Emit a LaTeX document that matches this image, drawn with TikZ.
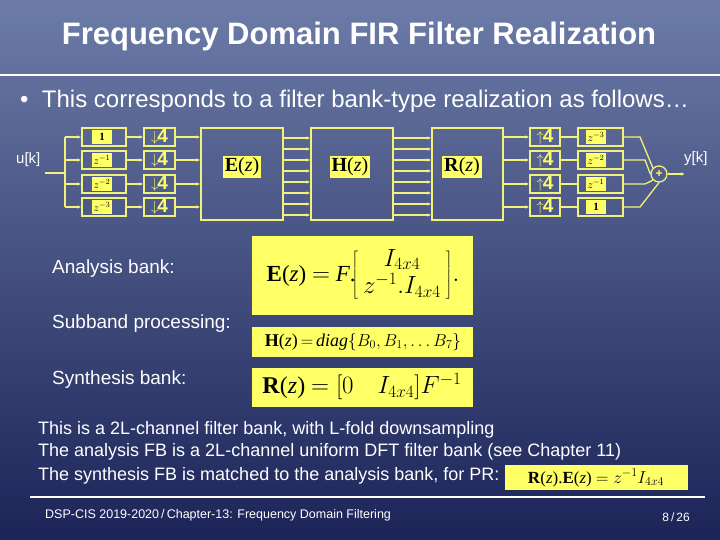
\documentclass[tikz,border=0pt]{standalone}
\usepackage{fontspec}
\setmainfont{Liberation Sans}
\newfontfamily\tms{Liberation Serif}
\usetikzlibrary{arrows.meta}
\definecolor{ylw}{HTML}{FFFF66}
\definecolor{lne}{HTML}{F2F27A}
\definecolor{bgA}{HTML}{5C6D9E}
\definecolor{bgB}{HTML}{1C2458}
\newcommand{\bE}{\textbf{\tms E}}
\newcommand{\bH}{\textbf{\tms H}}
\newcommand{\bR}{\textbf{\tms R}}
\begin{document}
\begin{tikzpicture}[x=1pt,y=-1pt,
  wire/.style={draw=lne,line width=1.3pt},
  arr/.style={wire,-{Latex[length=4pt,width=3.5pt]}},
  bx/.style={draw=lne,line width=1.3pt,fill=none},
  ylab/.style={fill=ylw,text=black,inner sep=2pt},
  rate/.style={bx,minimum height=18pt,inner sep=0pt,text=ylw,font=\fontsize{19}{19}\selectfont\bfseries},
  eqbox/.style={fill=ylw,text=black,inner sep=0pt,anchor=north west},
  wt/.style={text=white,anchor=west,inner sep=0pt}]
\shade[left color=bgA,right color=bgB,shading angle=0] (0,0) rectangle (720,540);
\shade[top color=bgA!80!white,bottom color=bgB,opacity=0.5] (0,0) rectangle (720,540);
\useasboundingbox (0,0) rectangle (720,540);
\node[text=white,font=\fontsize{31}{34}\selectfont\bfseries] (title) at (359,36) {Frequency Domain FIR Filter Realization};
\draw[white,line width=2pt] (0,75) -- (720,75);
\node[wt,font=\fontsize{24}{27}\selectfont] (bul) at (20,101) {\textbullet\ \ This corresponds to a filter bank-type realization as follows\dots};
% input side
\node[wt,font=\fontsize{15}{18}\selectfont] (uk) at (16,160) {u[k]};
\coordinate (in0) at (45,173);
\coordinate (bus) at (65,173);
\draw[wire] (in0) -- (bus);
\draw[wire] (65,137) -- (65,207);
\foreach \i/\y/\t in {1/137/{\textbf{1}},2/160/{$z^{-1}$},3/184/{$z^{-2}$},4/207/{$z^{-3}$}}{
  \node[bx,minimum width=44pt,minimum height=18pt] (d\i) at (104,\y) {};
  \node[ylab,font=\fontsize{11}{11}\selectfont\tms,minimum width=20pt,minimum height=14pt] (dl\i) at (102,\y) {\t};
  \coordinate (b\i) at (65,\y);
  \draw[arr] (b\i) -- (d\i.west);
  \node[rate,minimum width=31pt] (dn\i) at (159.5,\y) {\raisebox{1pt}{\fontsize{15}{15}\selectfont$\downarrow$}\kern-1pt 4};
  \draw[arr] (d\i.east) -- (dn\i.west);
}
\node[bx,minimum width=82pt,minimum height=92pt] (E) at (242,174) {};
\node[ylab,font=\fontsize{20}{20}\selectfont\tms] (El) at (242,167) {\bE(\textit{z})};
\node[bx,minimum width=82pt,minimum height=92pt] (H) at (352,174) {};
\node[ylab,font=\fontsize{20}{20}\selectfont\tms] (Hl) at (350,167) {\bH(\textit{z})};
\node[bx,minimum width=71pt,minimum height=92pt] (R) at (467.5,174) {};
\node[ylab,font=\fontsize{20}{20}\selectfont\tms] (Rl) at (462,167) {\bR(\textit{z})};
\foreach \i/\y in {1/137,2/160,3/184,4/207}{
  \draw[arr] (dn\i.east) -- (E.west |- 0,\y);
}
\foreach \y in {138,149,160,171,182,193,204,215}{
  \draw[arr] (E.east |- 0,\y) -- (H.west |- 0,\y);
  \draw[arr] (H.east |- 0,\y) -- (R.west |- 0,\y);
}
\node[draw=lne,line width=1.3pt,circle,minimum size=16pt,inner sep=0pt,text=ylw,font=\bfseries\large] (sum) at (659,174) {+};
\foreach \i/\y/\t in {1/137/{$z^{-3}$},2/160/{$z^{-2}$},3/184/{$z^{-1}$},4/207/{\textbf{1}}}{
  \node[rate,minimum width=30pt] (up\i) at (545,\y) {\raisebox{1pt}{\fontsize{15}{15}\selectfont$\uparrow$}\kern-1pt 4};
  \draw[arr] (R.east |- 0,\y) -- (up\i.west);
  \node[bx,minimum width=45pt,minimum height=18pt] (s\i) at (600.5,\y) {};
  \node[ylab,font=\fontsize{11}{11}\selectfont\tms,minimum width=20pt,minimum height=14pt] (sl\i) at (596,\y) {\t};
  \draw[wire] (up\i.east) -- (s\i.west);
}
\draw[wire] (s1.east) -- (640,137) -- (sum.north west);
\draw[wire] (s2.east) -- (645,160) -- (sum.west);
\draw[wire] (s3.east) -- (645,184) -- (sum.south west);
\draw[wire] (s4.east) -- (640,207) -- (sum.south);
\coordinate (out) at (685,174);
\draw[arr] (sum.east) -- (out);
\node[wt,font=\fontsize{15}{18}\selectfont] (yk) at (684,159) {y[k]};
% equations
\node[wt,font=\fontsize{19}{22}\selectfont] (an) at (52,269) {Analysis bank:};
\node[wt,font=\fontsize{19}{22}\selectfont] (sp) at (52,324) {Subband processing:};
\node[wt,font=\fontsize{19}{22}\selectfont] (sy) at (52,380) {Synthesis bank:};
\node[eqbox,minimum width=221pt,minimum height=79pt] (eq1) at (252,236) {};
\node[text=black,font=\fontsize{23}{25}\selectfont\tms] (eq1t) at (363,275) {\bE(\textit{z}) $=$ \textit{F}.$\!\left[\begin{array}{c} I_{4x4}\\ z^{-1}.I_{4x4}\end{array}\right]\!.$};
\node[eqbox,minimum width=221pt,minimum height=30pt] (eq2) at (252,327) {};
\node[text=black,font=\fontsize{18}{20}\selectfont\tms] (eq2t) at (363,342) {\bH(\textit{z})$\,=\,$\textit{diag}$\{B_0,B_1,\ldots B_7\}$};
\node[eqbox,minimum width=221pt,minimum height=39pt] (eq3) at (252,368) {};
\node[text=black,font=\fontsize{24}{26}\selectfont\tms] (eq3t) at (362,387) {\bR(\textit{z}) $=\bigl[0\quad I_{4x4}\bigr]F^{-1}$};
\node[wt,font=\fontsize{18}{20}\selectfont] (l1) at (38,430) {This is a 2L-channel filter bank, with L-fold downsampling};
\node[wt,font=\fontsize{18}{20}\selectfont] (l2) at (38,452) {The analysis FB is a 2L-channel uniform DFT filter bank (see Chapter 11)};
\node[wt,font=\fontsize{18}{20}\selectfont] (l3) at (38,476) {The synthesis FB is matched to the analysis bank, for PR:};
\node[eqbox,minimum width=183pt,minimum height=25pt] (eq4) at (505,465) {};
\node[text=black,font=\fontsize{17}{18}\selectfont\tms] (eq4t) at (596,478) {\bR(\textit{z}).\bE(\textit{z}) $=z^{-1}I_{4x4}$};
\draw[white,line width=2pt] (30,497) -- (705,497);
\node[wt,font=\fontsize{12.5}{14}\selectfont] (ft) at (45,515) {DSP-CIS 2019-2020\,/\,Chapter-13: Frequency Domain Filtering};
\node[text=white,anchor=east,inner sep=0pt,font=\fontsize{12}{14}\selectfont] (pg) at (690,517) {8\,/\,26};
\end{tikzpicture}
\end{document}
